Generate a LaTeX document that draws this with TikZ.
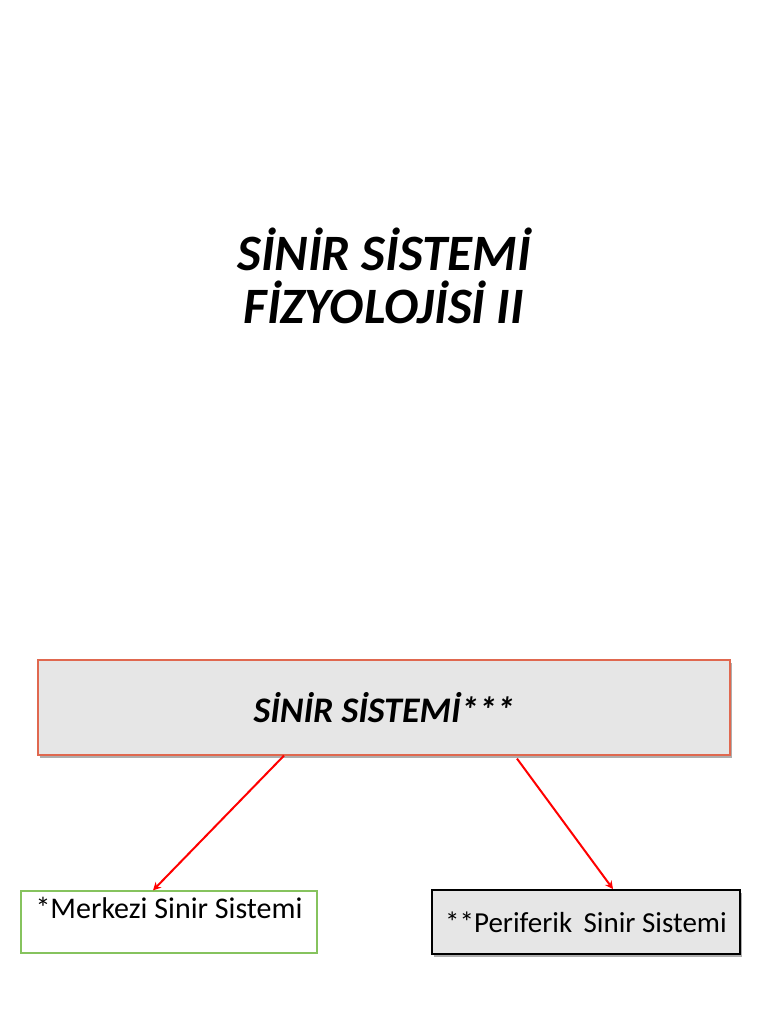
\documentclass[tikz,border=0pt]{standalone}
\usepackage{fontspec}
\setmainfont{Carlito}
\usetikzlibrary{shadows,arrows.meta}
\definecolor{boxgray}{HTML}{E6E6E6}
\definecolor{boxred}{HTML}{E0684F}
\definecolor{boxgreen}{HTML}{86C35E}
\tikzset{
  shd/.style={drop shadow={shadow xshift=2pt,shadow yshift=-2.5pt,opacity=0.45,fill=black!70}},
  arr/.style={draw=red,line width=2pt,-{Stealth[length=8pt,width=8pt]}},
}
\begin{document}
\begin{tikzpicture}[x=1pt,y=1pt]
\useasboundingbox[fill=white] (0,0) rectangle (768,-1024);
\node[align=center,font=\fontsize{51}{53}\selectfont\bfseries\itshape] (title) at (384,-276) {SİNİR SİSTEMİ\\FİZYOLOJİSİ II};
\node[shd,draw=boxred,line width=1.2pt,fill=boxgray,minimum width=692pt,minimum height=95pt,inner sep=0pt,font=\fontsize{36}{40}\selectfont\bfseries\itshape] (top) at (384,-707.5) {SİNİR SİSTEMİ***};
\node[draw=boxgreen,line width=1.2pt,fill=white,minimum width=296pt,minimum height=62pt,inner sep=0pt] (lbox) at (169,-922) {};
\node[anchor=north,font=\fontsize{30}{34}\selectfont,inner sep=0pt] (ltext) at ([yshift=-7pt]lbox.north) {*Merkezi Sinir Sistemi};
\node[shd,draw=black,line width=1.8pt,fill=boxgray,minimum width=308pt,minimum height=64pt,inner sep=0pt,font=\fontsize{29}{33}\selectfont] (rbox) at (586,-922) {**Periferik\ \,Sinir Sistemi};
\draw[arr] ([xshift=-100pt]top.south) -- ([xshift=-16pt]lbox.north);
\draw[arr] ([xshift=133pt,yshift=-3pt]top.south) -- ([xshift=27pt]rbox.north);
\end{tikzpicture}
\end{document}
